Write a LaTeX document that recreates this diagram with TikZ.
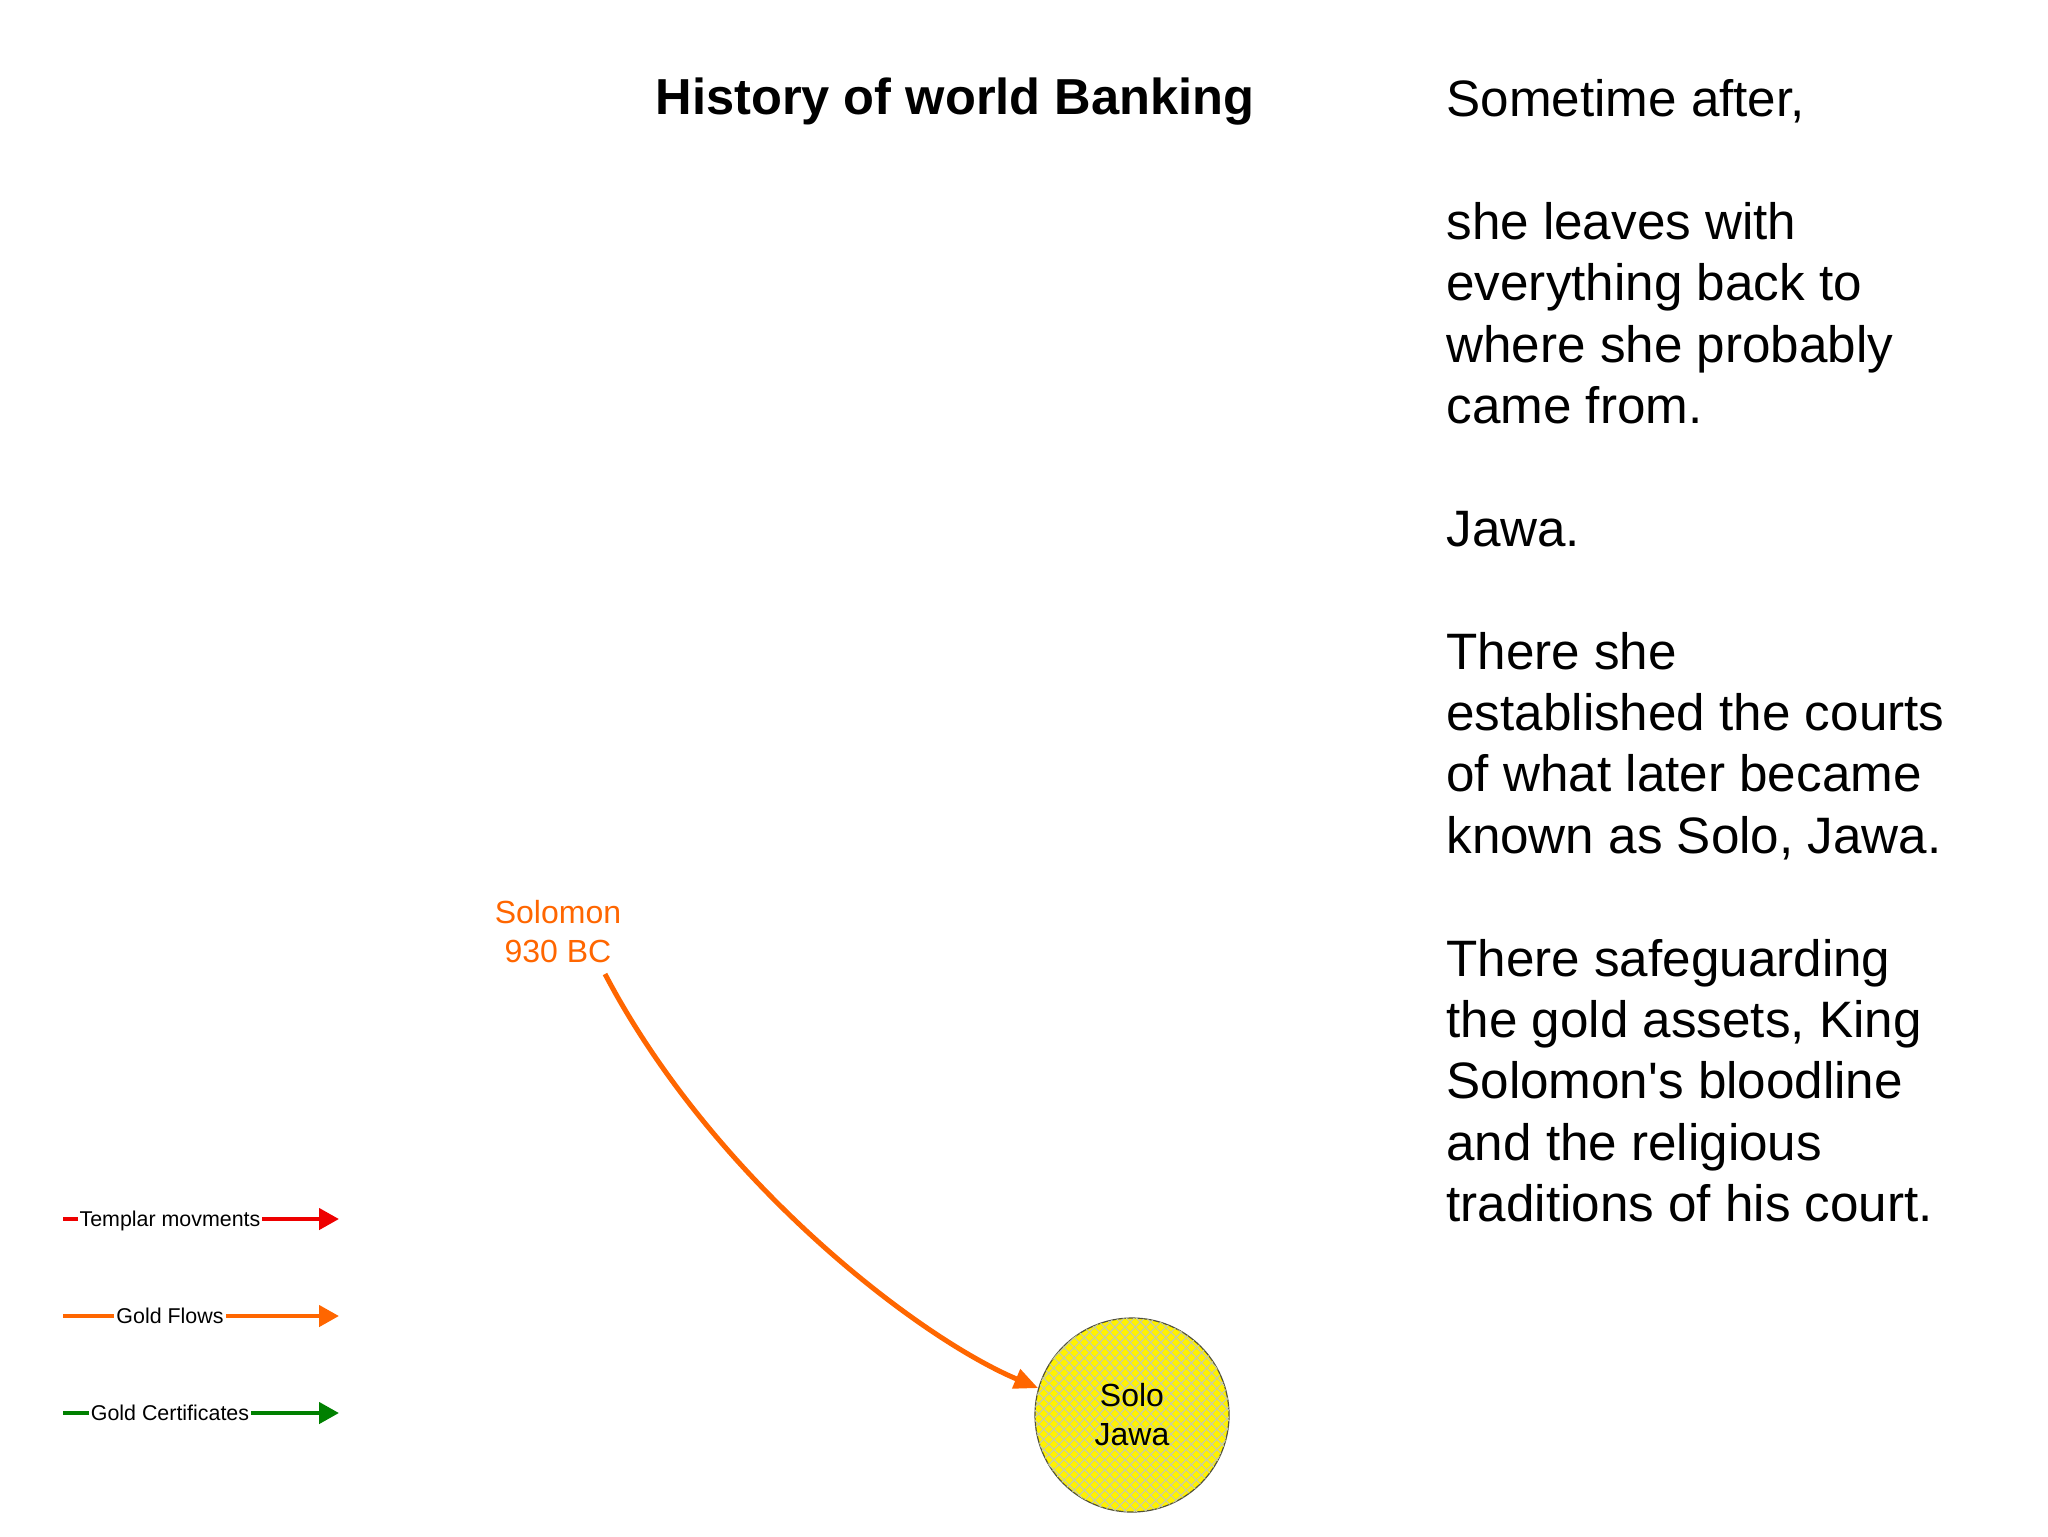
\documentclass[tikz,border=0pt]{standalone}
\usepackage{fontspec}
\setmainfont[Ligatures=TeXOff]{Liberation Sans}
\usetikzlibrary{arrows.meta,patterns.meta}
\definecolor{goldorange}{RGB}{255,102,0}
\definecolor{templred}{RGB}{238,0,0}
\definecolor{certgreen}{RGB}{0,128,0}
\definecolor{hatchcol}{RGB}{200,205,165}
\definecolor{rimcol}{RGB}{80,80,60}
\begin{document}
\begin{tikzpicture}[x=0.5pt,y=-0.5pt,
  legendline/.style={line width=2.2pt,-{Triangle[length=10pt,width=10.5pt]}},
  legendlabel/.style={fill=white,inner xsep=1pt,inner ysep=0.5pt,anchor=base,text=black,
    font=\fontsize{10.7pt}{12pt}\selectfont},
  flow/.style={goldorange,line width=2.5pt,-{Triangle[length=12pt,width=10pt]}},
  place/.style={circle,draw=rimcol,line width=0.6pt,fill=yellow,minimum size=97pt,inner sep=0pt,
    postaction={pattern={Lines[angle=45,distance=3.6pt,line width=0.55pt]},pattern color=hatchcol},
    postaction={pattern={Lines[angle=-45,distance=3.6pt,line width=0.55pt]},pattern color=hatchcol},
    align=center,font=\fontsize{16pt}{19.5pt}\selectfont}
]
\useasboundingbox (0,0) rectangle (2048,1536);

% title
\node[anchor=base,inner sep=0pt,font=\fontsize{25.3pt}{30pt}\selectfont\bfseries] (title) at (955,114.5) {History of world Banking};

% story text (anchored at the baseline of its last line)
\node[anchor=base west,align=left,inner sep=0pt,font=\fontsize{25.6pt}{30.7pt}\selectfont] (story) at (1446,1221.7)
{Sometime after,\\[30.7pt]
she leaves with\\
everything back to\\
where she probably\\
came from.\\[30.7pt]
Jawa.\\[30.7pt]
There she\\
established the courts\\
of what later became\\
known as Solo, Jawa.\\[30.7pt]
There safeguarding\\
the gold assets, King\\
Solomon's bloodline\\
and the religious\\
traditions of his court.};

% Solomon label and place
\node[anchor=base,align=center,inner sep=0pt,text=goldorange,font=\fontsize{16pt}{19.5pt}\selectfont] (solomon) at (558,962.5) {Solomon\\930 BC};
\node[place] (solo) at (1132,1415) {Solo\\Jawa};
\coordinate (solstart) at (605,974);
\draw[flow] (solstart) .. controls (712,1178) and (915,1336) .. (solo.164);

% legend
\coordinate (ta) at (63,1219);
\coordinate (tb) at (339,1219);
\draw[legendline,templred] (ta) -- (tb);
\node[legendlabel] (tl) at (170,1226.7) {Templar movments};

\coordinate (ga) at (63,1316);
\coordinate (gb) at (339,1316);
\draw[legendline,goldorange] (ga) -- (gb);
\node[legendlabel] (gl) at (170,1323.7) {Gold Flows};

\coordinate (ca) at (63,1413);
\coordinate (cb) at (339,1413);
\draw[legendline,certgreen] (ca) -- (cb);
\node[legendlabel] (cl) at (170,1420.7) {Gold Certificates};
\end{tikzpicture}
\end{document}
